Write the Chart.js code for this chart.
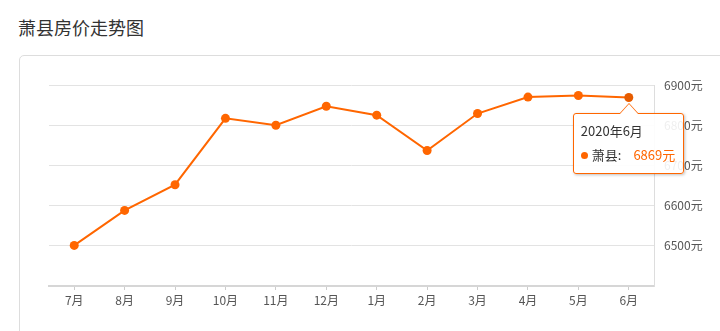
<!DOCTYPE html>
<html>
<head>
<meta charset="utf-8">
<script src="https://cdn.jsdelivr.net/npm/chart.js@4/dist/chart.umd.min.js"></script>
<style>
body{margin:0;width:720px;height:331px;overflow:hidden;background:#fff;font-family:"Noto Sans CJK SC","Microsoft YaHei",sans-serif;position:relative;}
#title{position:absolute;left:18px;top:14px;font-size:18px;color:#333;line-height:26px;}
#card{position:absolute;left:19px;top:55px;width:720px;height:300px;border:1px solid #ddd;border-radius:5px;box-sizing:border-box;}
#wrap{position:absolute;left:19px;top:55px;width:701px;height:276px;}
#tip{position:absolute;background:rgba(255,255,255,0.9);border:1px solid #ff6600;border-radius:3px;box-shadow:1px 1px 3px rgba(0,0,0,0.25);padding:5px 8px 6px 7px;font-size:13px;color:#333;line-height:24px;white-space:nowrap;pointer-events:none;display:none;}
#tip:before,#tip:after{content:"";position:absolute;left:50%;width:0;height:0;border-style:solid;}
#tip:before{top:-11px;margin-left:-10px;border-width:0 10px 11px 10px;border-color:transparent transparent #ff6600 transparent;}
#tip:after{top:-10px;margin-left:-9px;border-width:0 9px 10px 9px;border-color:transparent transparent #fff transparent;}
#tip .dot{display:inline-block;width:7px;height:7px;border-radius:50%;background:#ff6600;margin-right:4px;vertical-align:1px;}
#tip .val{color:#ff6600;margin-left:12px;}
</style>
</head>
<body>
<div id="title">萧县房价走势图</div>
<div id="card"></div>
<div id="wrap"><canvas id="chart"></canvas></div>
<div id="tip"></div>
<script>

let months = ["7月","8月","9月","10月","11月","12月","1月","2月","3月","4月","5月","6月"];
let years = [2019,2019,2019,2019,2019,2019,2020,2020,2020,2020,2020,2020];
let prices = [6501,6588,6652,6817,6800,6847,6825,6737,6829,6870,6874,6869];
let yTicks = [6400,6500,6600,6700,6800,6900];
let seriesName = "萧县";

function showTip(context){

let tip = document.getElementById("tip");
let tooltip = context.tooltip;

if(tooltip.opacity === 0){
tip.style.display = "none";
return;
}

let i = tooltip.dataPoints[0].dataIndex;
tip.innerHTML = '<div>' + years[i] + '年' + months[i] + '</div>' +
'<div><span class="dot"></span>' + seriesName + ':<span class="val">' + prices[i] + '元</span></div>';
tip.style.display = "block";

let box = context.chart.canvas.getBoundingClientRect();
let x = box.left + tooltip.caretX;
let y = box.top + tooltip.caretY;
tip.style.left = (x - tip.offsetWidth / 2) + "px";
tip.style.top = (y + 16) + "px";

}

let ctx = document.getElementById("chart").getContext("2d");

let chart = new Chart(ctx,{
type:"line",
data:{
labels:months,
datasets:[{
label:seriesName,
data:prices,
borderColor:"#ff6600",
backgroundColor:"#ff6600",
borderWidth:2,
pointRadius:4.5,
pointHoverRadius:4.5,
pointBorderWidth:0,
pointHoverBorderWidth:0,
tension:0
}]
},
options:{
responsive:true,
maintainAspectRatio:false,
animation:false,
layout:{padding:{left:30,top:30,right:0,bottom:0}},
plugins:{
legend:{display:false},
tooltip:{enabled:false,external:showTip}
},
scales:{
x:{
offset:true,
grid:{drawOnChartArea:false,color:"#ccc",tickLength:4},
border:{color:"#d6d6d6",width:2},
ticks:{color:"#555",padding:3,font:{size:12,family:"Noto Sans CJK SC"}},
afterFit:function(scale){scale.height = 45;}
},
y:{
position:"right",
min:6400,
max:6900,
afterBuildTicks:function(scale){scale.ticks = yTicks.map(v => ({value:v}));},
grid:{color:"#e3e3e3",drawTicks:false},
border:{color:"#ddd",width:1},
ticks:{
color:"#555",
padding:10,
font:{size:12,family:"Noto Sans CJK SC"},
callback:function(v){return v === 6400 ? "" : v + "元";}
},
afterFit:function(scale){scale.width = 66;}
}
}
}
});

chart.tooltip.setActiveElements([{datasetIndex:0,index:11}],{x:0,y:0});
chart.setActiveElements([{datasetIndex:0,index:11}]);
chart.update();

</script>
</body>
</html>
